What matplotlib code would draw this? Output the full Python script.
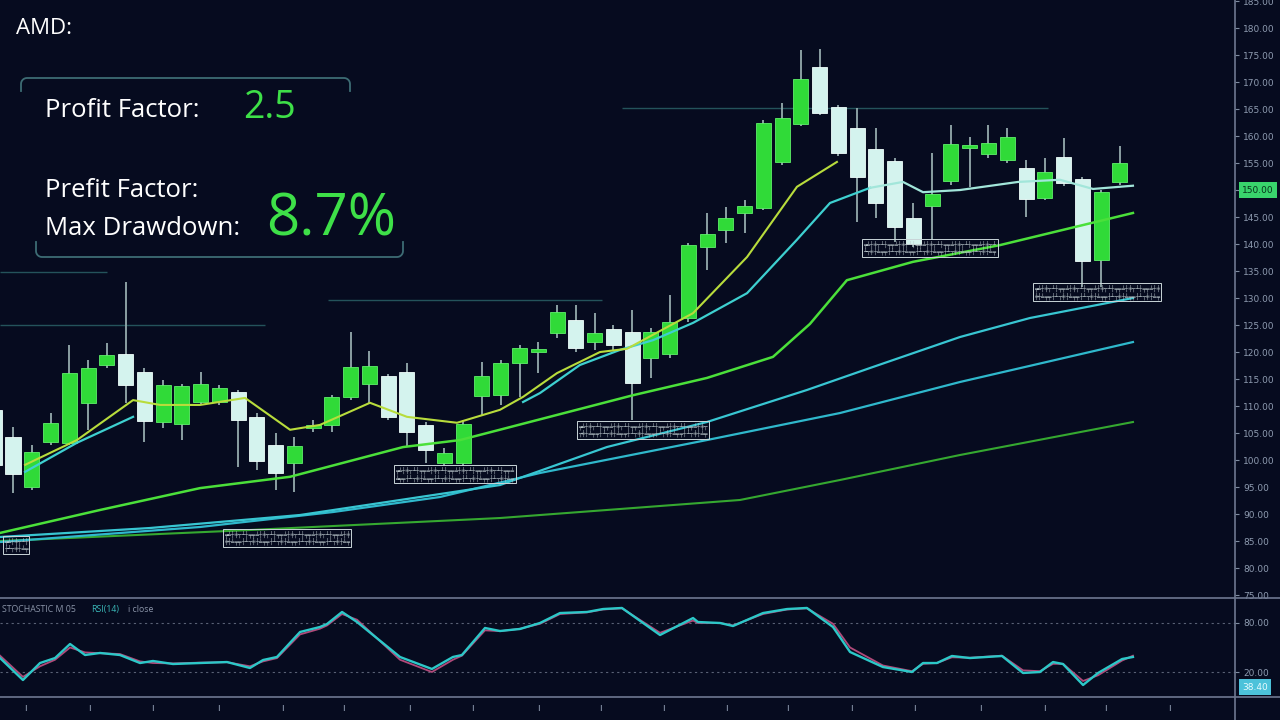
import numpy as np
import matplotlib
matplotlib.use("Agg")
import matplotlib.pyplot as plt
from matplotlib.lines import Line2D
from matplotlib.transforms import blended_transform_factory

opens = [109.3, 104.3, 95.0, 103.3, 103.1, 110.6, 117.6, 119.6, 116.3, 107.0,
         106.7, 110.8, 110.8, 112.6, 108.0, 102.8, 99.5, 105.9, 106.5, 111.7,
         114.1, 115.6, 116.3, 106.5, 99.5, 99.5, 111.9, 112.0, 118.0, 120.0,
         123.5, 125.9, 121.9, 124.3, 123.7, 118.9, 119.6, 126.3, 139.5, 142.6,
         145.8, 146.7, 155.2, 162.2, 172.8, 165.4, 161.5, 157.6, 155.4, 144.8,
         147.0, 151.7, 157.8, 156.7, 155.6, 154.1, 148.5, 156.1, 152.1, 137.1,
         151.5]
highs = [111.1, 106.1, 102.8, 108.7, 121.3, 118.5, 121.7, 133.0, 117.0, 114.8,
         114.1, 116.3, 113.9, 113.0, 108.7, 105.0, 104.3, 107.4, 112.0, 123.7,
         120.2, 115.9, 118.0, 107.0, 102.2, 107.4, 118.2, 118.5, 121.3, 121.9,
         128.7, 128.7, 127.2, 125.0, 127.8, 124.5, 130.6, 140.2, 145.8, 146.9,
         148.2, 163.0, 166.1, 175.9, 176.1, 165.8, 165.2, 161.5, 155.9, 147.6,
         156.9, 162.1, 159.8, 162.1, 161.5, 155.6, 155.9, 159.6, 152.4, 150.0,
         158.2]
lows = [97.2, 93.9, 94.5, 102.8, 102.8, 105.6, 117.0, 110.6, 103.3, 105.9,
        103.7, 110.2, 110.2, 98.7, 98.2, 94.5, 94.1, 105.2, 105.2, 111.1,
        110.6, 107.4, 102.4, 99.5, 98.9, 98.9, 108.3, 110.2, 111.7, 116.1,
        122.6, 120.0, 120.4, 120.4, 107.4, 115.2, 118.9, 125.6, 135.2, 140.2,
        142.1, 146.3, 154.6, 161.9, 163.9, 156.3, 144.1, 144.8, 140.4, 139.5,
        140.8, 150.9, 150.6, 155.9, 155.0, 145.0, 148.2, 150.8, 132.1, 132.1,
        150.9]
closes = [99.1, 97.4, 101.5, 106.9, 116.1, 117.0, 119.4, 113.9, 107.2, 113.9,
          113.7, 114.1, 113.3, 107.4, 99.8, 97.6, 102.6, 106.5, 111.7, 117.2,
          117.4, 108.0, 105.2, 101.9, 101.3, 106.7, 115.6, 118.0, 120.8, 120.6,
          127.4, 120.8, 123.5, 121.3, 114.3, 123.7, 125.6, 139.8, 141.9, 144.8,
          147.0, 162.4, 163.3, 170.6, 164.3, 156.9, 152.4, 147.6, 143.2, 140.0,
          149.3, 158.5, 158.2, 158.7, 159.8, 148.3, 153.3, 151.3, 136.9, 149.6,
          155.0]

# ---- moving averages (x in bar index, y in price)
fast_x = [1.64, 4.41, 7.40, 8.84, 10.97, 13.37, 15.77, 17.36, 20.03, 22.00,
          24.67, 26.96, 28.19, 30.00, 32.29, 33.73, 37.25, 40.13, 42.79, 44.92]
fast_y = [99.1, 103.7, 111.1, 110.2, 110.2, 111.5, 105.6, 106.5, 110.6, 108.0,
          106.9, 109.3, 111.7, 116.1, 120.0, 120.6, 127.2, 137.6, 150.6, 155.2]
cyan_fast_x = [1.64, 4.41, 7.40, np.nan, 28.19, 29.09, 31.22, 33.36, 35.12,
               37.25, 40.13, 42.79, 44.55, 46.68]
cyan_fast_y = [97.8, 103.2, 108.0, np.nan, 110.75, 112.4, 117.6, 120.4, 122.2,
               125.4, 130.9, 140.8, 147.6, 150.4]
pale_x = [46.68, 48.44, 49.51, 51.48, 54.58, 56.81, 58.57, 60.70]
pale_y = [150.4, 151.5, 149.6, 150.0, 151.5, 151.9, 150.2, 150.8]
mid_x = [0.31, 5.64, 10.97, 15.77, 21.79, 24.83, 34.05, 37.99, 41.51, 43.48,
         45.45, 48.97, 53.61, 60.70]
mid_y = [86.5, 90.75, 94.8, 96.9, 102.4, 103.7, 112.0, 115.2, 119.1, 125.2,
         133.3, 136.7, 139.8, 145.75]
slow1_x = [0.31, 8.30, 16.30, 26.96, 32.66, 37.99, 43.32, 46.84, 51.48, 55.21, 60.70]
slow1_y = [85.75, 87.41, 89.82, 95.37, 102.41, 107.04, 112.97, 117.23, 122.78, 126.3, 130.0]
slow2_x = [0.31, 10.97, 18.06, 23.76, 29.09, 37.99, 45.08, 51.48, 60.70]
slow2_y = [84.82, 87.6, 90.37, 93.15, 97.6, 103.7, 108.7, 114.45, 121.85]
slowg_x = [0.31, 13.63, 26.96, 39.75, 45.08, 51.48, 60.70]
slowg_y = [85.0, 87.04, 89.26, 92.6, 96.3, 100.93, 107.04]

# faint horizontal levels: price, from, to
lvl_y = [134.8, 125.0, 129.6, 165.2]
lvl_x0 = [0.31, 0.31, 17.79, 33.46]
lvl_x1 = [6.01, 14.43, 32.40, 56.17]

# small label boxes on the chart
tag_x = [1.16, 15.6, 24.56, 34.58, 49.88, 58.78]
tag_y = [84.3, 85.6, 97.4, 105.6, 139.3, 131.1]
tag_chars = [7, 36, 34, 37, 38, 36]

# ---- oscillator panel
osc_x = [0.31, 1.53, 2.44, 3.24, 4.04, 4.84, 5.64, 6.70, 7.77, 8.46, 9.53,
         10.97, 12.41, 13.63, 14.33, 15.07, 16.30, 17.36, 17.74, 18.54, 19.34,
         21.63, 23.33, 24.45, 24.93, 26.16, 26.96, 28.03, 29.09, 30.16, 31.60,
         32.45, 33.46, 35.49, 37.25, 37.51, 38.69, 39.38, 40.98, 42.26, 43.32,
         44.71, 45.62, 47.37, 48.92, 49.51, 50.25, 51.05, 52.01, 53.72, 54.84,
         55.74, 56.44, 56.97, 58.04, 58.84, 60.12, 60.70]
osc_k = [37.1, 10.2, 31.0, 37.1, 54.3, 40.8, 43.3, 40.8, 31.0, 33.5, 29.8,
         31.0, 32.2, 24.9, 34.7, 38.4, 69.0, 75.1, 78.8, 93.5, 81.2,
         38.4, 23.7, 38.4, 40.8, 73.9, 70.2, 72.7, 80.0, 92.2, 93.5,
         97.1, 98.4, 65.3, 86.1, 81.2, 80.0, 76.3, 92.2, 97.1, 98.4,
         75.1, 44.5, 26.1, 20.0, 31.0, 31.0, 39.6, 37.1, 39.6, 18.8,
         20.0, 32.2, 29.8, 4.1, 18.8, 35.9, 38.4]
osc_d = [40.0, 14.0, 27.0, 35.0, 50.0, 44.0, 43.0, 42.0, 33.0, 31.0, 30.5,
         31.5, 32.0, 27.0, 33.0, 37.0, 66.0, 73.0, 77.0, 91.0, 84.0,
         35.0, 20.0, 35.0, 40.0, 71.0, 70.0, 73.0, 79.0, 91.0, 93.0,
         96.5, 98.0, 68.0, 83.0, 80.0, 80.0, 77.0, 91.0, 96.5, 98.0,
         79.0, 50.0, 28.0, 21.0, 30.0, 31.0, 38.0, 37.5, 40.0, 22.0,
         21.0, 30.0, 30.0, 9.0, 16.0, 34.0, 40.0]
osc_ticks = [1.69, 5.10, 8.46, 11.93, 15.34, 18.64, 22.16, 25.47, 28.99, 32.34,
             35.70, 39.06, 42.31, 45.72, 49.03, 52.55, 55.96, 59.26, 62.67]

price_ticks = list(range(75, 190, 5))
last_price = 150
osc_levels = [20, 80]
osc_last = 1.6

BG = "#060b1f"
GREEN = "#30da38"
WHITE = "#d4f3ee"
FONT = ["Open Sans", "DejaVu Sans"]
W, H = 1280, 720

fig = plt.figure(figsize=(12.8, 7.2), dpi=100, facecolor=BG)
ax = fig.add_axes([0, 1 - 598 / H, 1235 / W, 598 / H])
osc = fig.add_axes([0, 1 - 697 / H, 1235 / W, 99 / H], sharex=ax)
for a in (ax, osc):
    a.set_facecolor(BG)
    for s in a.spines.values():
        s.set_visible(False)

# levels
ax.hlines(lvl_y, lvl_x0, lvl_x1, color="#24535b", lw=1.0, zorder=1)

# candles
idx = np.arange(len(opens))
o = np.array(opens); c = np.array(closes)
up = c >= o
bottoms = np.minimum(o, c)
heights = np.maximum(np.abs(c - o), 0.6)
ax.vlines(idx, lows, highs, color="#95abad", lw=1.3, zorder=3)
ax.bar(idx, heights, bottom=bottoms, width=0.8,
       color=[GREEN if u else WHITE for u in up],
       edgecolor=["#5ff06a" if u else "#f0fffc" for u in up],
       lw=0.6, zorder=4)

# moving averages
ax.plot(slowg_x, slowg_y, color="#35a830", lw=1.5, zorder=5)
ax.plot(slow2_x, slow2_y, color="#2fb8cc", lw=1.6, zorder=5)
ax.plot(slow1_x, slow1_y, color="#38c6d2", lw=1.6, zorder=5)
ax.plot(mid_x, mid_y, color="#4be03a", lw=1.8, zorder=5)
ax.plot(cyan_fast_x, cyan_fast_y, color="#3ed0d0", lw=1.6, zorder=5)
ax.plot(pale_x, pale_y, color="#a2e6da", lw=1.6, zorder=5)
ax.plot(fast_x, fast_y, color="#b8dc3c", lw=1.5, zorder=5)

# garbled little label boxes
for x, y, n in zip(tag_x, tag_y, tag_chars):
    row = ("╤╧┼╪┬┴┼╤" * 8)[:n]
    ax.text(x, y, row + "\n" + row[::-1], ha="center", va="center",
            family="DejaVu Sans Mono", fontsize=4.2, color="#b9c6ca",
            linespacing=1.0, zorder=6,
            bbox=dict(boxstyle="square,pad=0.2", fc="none", ec="#c9d5d8", lw=0.7))

ax.set_xlim(0.307, 66.14)
ax.set_ylim(74.45, 185.19)
ax.tick_params(axis="x", bottom=False, labelbottom=False)
ax.yaxis.tick_right()
ax.set_yticks(price_ticks,
              ["" if t == last_price else f"{t:.2f}" for t in price_ticks])
ax.tick_params(axis="y", colors="#7f8ca0", labelcolor="#8e9bb0", length=3,
               width=0.8, pad=3, labelsize=6.5)
blend = blended_transform_factory(ax.transAxes, ax.transData)
ax.text(1.0057, last_price, f"{last_price:.2f}", transform=blend, ha="left",
        va="center", fontsize=6.5, color="#07321b", clip_on=False,
        bbox=dict(boxstyle="square,pad=0.35", fc="#39d46c", ec="none"))

# oscillator
for lv in osc_levels:
    osc.axhline(lv, color="#596175", lw=0.8, ls=(0, (2, 3)), zorder=1)
osc.plot(osc_x, osc_d, color="#b04a7a", lw=1.3, zorder=2)
osc.plot(osc_x, osc_k, color="#2cc8c8", lw=1.7, zorder=3)
osc.set_ylim(-10.6, 110.6)
osc.yaxis.tick_right()
osc.set_yticks(osc_levels, [f"{v:.2f}" for v in osc_levels])
osc.tick_params(axis="y", colors="#7f8ca0", labelcolor="#8e9bb0", length=3,
                width=0.8, pad=3, labelsize=6.5)
osc.set_xticks(osc_ticks, ["ı"] * len(osc_ticks))
osc.tick_params(axis="x", length=0, pad=4, labelsize=7, labelcolor="#8e9bb0")
blend2 = blended_transform_factory(osc.transAxes, osc.transData)
osc.text(1.0057, osc_last, "38.40", transform=blend2, ha="left", va="center",
         fontsize=6.5, color="#e6fbff", clip_on=False,
         bbox=dict(boxstyle="square,pad=0.35", fc="#4cc2da", ec="none"))
osc.text(0.002, 0.88, "STOCHASTIC M 05", transform=osc.transAxes, fontsize=6.3,
         color="#8a94a8", va="center", family=FONT)
osc.text(0.074, 0.88, "RSI(14)", transform=osc.transAxes, fontsize=6.3,
         color="#3ab8b8", va="center", family=FONT)
osc.text(0.104, 0.88, "i close", transform=osc.transAxes, fontsize=6.3,
         color="#8a94a8", va="center", family=FONT)

# panel frame lines
LC = "#6e7890"
fig.add_artist(Line2D([0, 1], [1 - 598 / H] * 2, color=LC, lw=1.2))
fig.add_artist(Line2D([0, 1], [1 - 697 / H] * 2, color=LC, lw=1.2))
fig.add_artist(Line2D([1235 / W] * 2, [0, 1], color=LC, lw=1.2))


def bracket(x0, x1, y, depth, r):
    t = np.linspace(0, np.pi / 2, 10)
    s = np.sign(depth)
    xs = [x0] + list(x0 + r - r * np.cos(t)) + list(x1 - r + r * np.sin(t)) + [x1]
    ys = [y + depth] + list(y + s * (r - r * np.sin(t))) + list(y + s * (r - r * np.cos(t))) + [y + depth]
    fig.add_artist(Line2D(np.array(xs) / W, 1 - np.array(ys) / H,
                          color="#3d6c74", lw=1.3))


bracket(21, 350, 78, 13, 6)
bracket(36, 403, 257, -15, 6)

fig.text(16 / W, 1 - 34 / H, "AMD:", color="white", fontsize=16, family=FONT,
         va="baseline")
fig.text(45 / W, 1 - 117 / H, "Profit Factor:", color="white", fontsize=18.5,
         family=FONT, va="baseline")
fig.text(243 / W, 1 - 118 / H, "2.5", color="#3ee048", fontsize=27,
         family=FONT, va="baseline")
fig.text(45 / W, 1 - 197 / H, "Prefit Factor:", color="white", fontsize=18.5,
         family=FONT, va="baseline")
fig.text(45 / W, 1 - 235 / H, "Max Drawdown:", color="white", fontsize=18.5,
         family=FONT, va="baseline")
fig.text(266 / W, 1 - 236 / H, "8.7%", color="#3ee048", fontsize=42,
         family=FONT, va="baseline")

fig.savefig("out.png", dpi=100, facecolor=BG)
